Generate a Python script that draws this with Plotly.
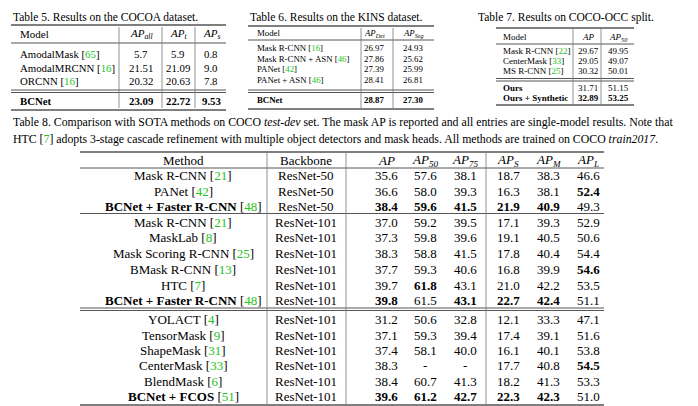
import plotly.graph_objects as go

G = "#22c322"

def cite(name, ref):
    return f"{name} [<span style='color:{G}'>{ref}</span>]" if ref else name

def ap(sub):
    return f"<i>AP</i><sub><i>{sub}</i></sub>" if sub else "<i>AP</i>"

# Table 5 (COCOA)
t5_models = [("AmodalMask", "65"), ("AmodalMRCNN", "16"), ("ORCNN", "16"), ("BCNet", "")]
t5_cols = ["all", "t", "s"]
t5_vals = [["5.7", "5.9", "0.8"], ["21.51", "21.09", "9.0"], ["20.32", "20.63", "7.8"], ["23.09", "22.72", "9.53"]]

# Table 6 (KINS)
t6_models = [("Mask R-CNN", "16"), ("Mask R-CNN + ASN", "46"), ("PANet", "42"), ("PANet + ASN", "46"), ("BCNet", "")]
t6_cols = ["Det", "Seg"]
t6_vals = [["26.97", "24.93"], ["27.86", "25.62"], ["27.39", "25.99"], ["28.41", "26.81"], ["28.87", "27.30"]]

# Table 7 (COCO-OCC)
t7_models = [("Mask R-CNN", "22"), ("CenterMask", "33"), ("MS R-CNN", "25"), ("<b>Ours</b>", ""), ("<b>Ours + Synthetic</b>", "")]
t7_cols = ["", "50"]
t7_vals = [["29.67", "49.95"], ["29.05", "49.07"], ["30.32", "50.01"], ["31.71", "51.15"], ["32.89", "53.25"]]
t7_bold = [[0, 0], [0, 0], [0, 0], [0, 0], [1, 1]]

# Table 8 (COCO test-dev)
t8_methods = [("Mask R-CNN", "21"), ("PANet", "42"), ("<b>BCNet + Faster R-CNN</b>", "48"),
              ("Mask R-CNN", "21"), ("MaskLab", "8"), ("Mask Scoring R-CNN", "25"), ("BMask R-CNN", "13"),
              ("HTC", "7"), ("<b>BCNet + Faster R-CNN</b>", "48"),
              ("YOLACT", "4"), ("TensorMask", "9"), ("ShapeMask", "31"), ("CenterMask", "33"),
              ("BlendMask", "6"), ("<b>BCNet + FCOS</b>", "51")]
t8_backbone = ["ResNet-50"] * 3 + ["ResNet-101"] * 12
t8_cols = ["", "50", "75", "S", "M", "L"]
t8_vals = [
    ["35.6", "57.6", "38.1", "18.7", "38.3", "46.6"],
    ["36.6", "58.0", "39.3", "16.3", "38.1", "52.4"],
    ["38.4", "59.6", "41.5", "21.9", "40.9", "49.3"],
    ["37.0", "59.2", "39.5", "17.1", "39.3", "52.9"],
    ["37.3", "59.8", "39.6", "19.1", "40.5", "50.6"],
    ["38.3", "58.8", "41.5", "17.8", "40.4", "54.4"],
    ["37.7", "59.3", "40.6", "16.8", "39.9", "54.6"],
    ["39.7", "61.8", "43.1", "21.0", "42.2", "53.5"],
    ["39.8", "61.5", "43.1", "22.7", "42.4", "51.1"],
    ["31.2", "50.6", "32.8", "12.1", "33.3", "47.1"],
    ["37.1", "59.3", "39.4", "17.4", "39.1", "51.6"],
    ["37.4", "58.1", "40.0", "16.1", "40.1", "53.8"],
    ["38.3", "-", "-", "17.7", "40.8", "54.5"],
    ["38.4", "60.7", "41.3", "18.2", "41.3", "53.3"],
    ["39.6", "61.2", "42.7", "22.3", "42.3", "51.0"],
]
t8_bold = [
    [0, 0, 0, 0, 0, 0], [0, 0, 0, 0, 0, 1], [1, 1, 1, 1, 1, 0],
    [0, 0, 0, 0, 0, 0], [0, 0, 0, 0, 0, 0], [0, 0, 0, 0, 0, 0], [0, 0, 0, 0, 0, 1],
    [0, 1, 0, 0, 0, 0], [1, 0, 1, 1, 1, 0],
    [0, 0, 0, 0, 0, 0], [0, 0, 0, 0, 0, 0], [0, 0, 0, 0, 0, 0], [0, 0, 0, 0, 0, 1],
    [0, 0, 0, 0, 0, 0], [1, 1, 1, 1, 1, 0],
]

fig = go.Figure()
FONT = "Liberation Serif, Times New Roman, serif"

def txt(x, y, s, size, anchor="center", color="black"):
    fig.add_annotation(x=x, y=y, text=s, showarrow=False, xanchor=anchor, yanchor="middle",
                       font=dict(family=FONT, size=size, color=color))

def hline(x0, x1, y, w=1.0, color="#555"):
    fig.add_shape(type="line", x0=x0, x1=x1, y0=y, y1=y, line=dict(color=color, width=w))

def vline(x, y0, y1, w=0.8):
    fig.add_shape(type="line", x0=x, x1=x, y0=y0, y1=y1, line=dict(color="#777", width=w))

def bold(s, b):
    return f"<b>{s}</b>" if b else s

# ---- Table 5
txt(3, 9, "Table 5. Results on the COCOA dataset.", 11.5, "left")
hline(3, 218, 17, 1.5)
txt(10, 26, "Model", 11, "left")
cx5 = [133, 170, 203]
for x, c in zip(cx5, t5_cols):
    txt(x, 26, ap(c), 11)
hline(3, 218, 35)
ys5 = [46, 60, 73, 93]
for i, (m, r) in enumerate(t5_models):
    last = i == len(t5_models) - 1
    txt(10, ys5[i], bold(cite(m, r), last), 10.8, "left")
    for x, v in zip(cx5, t5_vals[i]):
        txt(x, ys5[i], bold(v, last), 10.8)
hline(3, 218, 82)
hline(3, 218, 84.5)
hline(3, 218, 102, 1.5)
for x in [111, 154, 187]:
    vline(x, 19, 100)

# ---- Table 6
txt(240, 9, "Table 6. Results on the KINS dataset.", 11.5, "left")
hline(240, 426, 18, 1.5)
txt(247, 25, "Model", 8.8, "left")
cx6 = [366, 405]
for x, c in zip(cx6, t6_cols):
    txt(x, 25, ap(c), 8.8)
hline(240, 426, 32)
ys6 = [40, 51, 61, 72, 92]
for i, (m, r) in enumerate(t6_models):
    last = i == len(t6_models) - 1
    txt(247, ys6[i], bold(cite(m, r), last), 8.8, "left")
    for x, v in zip(cx6, t6_vals[i]):
        txt(x, ys6[i], bold(v, last), 8.8)
hline(240, 426, 82)
hline(240, 426, 84.5)
hline(240, 426, 101, 1.5)
for x in [353, 385]:
    vline(x, 20, 100)

# ---- Table 7
txt(468, 9, "Table 7. Results on COCO-OCC split.", 11.5, "left")
hline(488, 626, 20, 1.5)
txt(493, 29, "Model", 9, "left")
cx7 = [580, 610]
for x, c in zip(cx7, t7_cols):
    txt(x, 29, ap(c), 9)
hline(488, 626, 36)
ys7 = [43, 53, 63, 80, 90]
for i, (m, r) in enumerate(t7_models):
    txt(493, ys7[i], cite(m, r), 9, "left")
    for j, (x, v) in enumerate(zip(cx7, t7_vals[i])):
        txt(x, ys7[i], bold(v, t7_bold[i][j]), 9)
hline(488, 626, 70.5)
hline(488, 626, 73)
hline(488, 626, 97, 1.5)
for x in [565, 593]:
    vline(x, 21, 96)

# ---- Table 8
txt(3, 114, "Table 8. Comparison with SOTA methods on COCO <i>test-dev</i> set. The mask AP is reported and all entries are single-model results. Note that", 11.8, "left")
txt(3, 131, f"HTC [<span style='color:{G}'>7</span>] adopts 3-stage cascade refinement with multiple object detectors and mask heads. All methods are trained on COCO <i>train2017</i>.", 11.8, "left")
L8, R8 = 72, 596
hline(L8, R8, 144, 1.5)
txt(175, 152, "Method", 13)
txt(298, 152, "Backbone", 13)
cx8 = [378, 417, 457, 500, 540, 580]
for x, c in zip(cx8, t8_cols):
    txt(x, 152, ap(c), 13)
hline(L8, R8, 160)
ys8 = [167, 183, 198, 214, 229, 245, 261, 277, 292, 311, 327, 342, 357, 373, 388]
for i, (m, r) in enumerate(t8_methods):
    y = ys8[i]
    txt(175, y, cite(m, r), 13)
    txt(298, y, t8_backbone[i], 13)
    for j, (x, v) in enumerate(zip(cx8, t8_vals[i])):
        txt(x, y, bold(v, t8_bold[i][j]), 13)
hline(L8, R8, 205.5)
hline(L8, R8, 300)
hline(L8, R8, 302.5)
hline(L8, R8, 397, 1.5)
for x in [259, 338, 478]:
    vline(x, 145, 396)

fig.update_layout(
    width=698, height=406,
    margin=dict(l=0, r=0, t=0, b=0),
    paper_bgcolor="white", plot_bgcolor="white",
    xaxis=dict(range=[0, 698], visible=False, fixedrange=True),
    yaxis=dict(range=[406, 0], visible=False, fixedrange=True),
    showlegend=False,
)
fig.write_html("out.html", config={"displayModeBar": False})
